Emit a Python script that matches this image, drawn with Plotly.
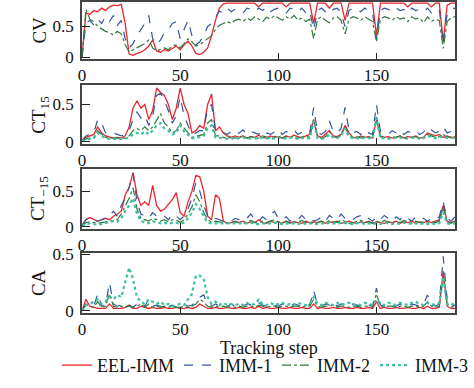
import plotly.graph_objects as go
from plotly.subplots import make_subplots

steps = list(range(0, 191, 2))

series_names = ["EEL-IMM", "IMM-1", "IMM-2", "IMM-3"]
panel_titles = ["CV", "CT<sub>15</sub>", "CT<sub>\u221215</sub>", "CA"]
x_tick_vals = [0, 50, 100, 150]
y_tick_vals = [0, 0.5]

cv_eel = [0.00, 0.72, 0.70, 0.76, 0.74, 0.80, 0.76, 0.82, 0.85, 0.84,
          0.86, 0.55, 0.05, 0.03, 0.06, 0.08, 0.12, 0.18, 0.28, 0.10,
          0.08, 0.12, 0.10, 0.14, 0.18, 0.12, 0.20, 0.26, 0.18, 0.06,
          0.04, 0.08, 0.15, 0.35, 0.60, 0.80, 0.87, 0.88, 0.88, 0.88,
          0.88, 0.88, 0.88, 0.88, 0.88, 0.82, 0.88, 0.88, 0.88, 0.88,
          0.88, 0.88, 0.82, 0.88, 0.88, 0.88, 0.88, 0.88, 0.88, 0.55,
          0.88, 0.88, 0.88, 0.80, 0.88, 0.88, 0.88, 0.60, 0.88, 0.88,
          0.88, 0.88, 0.88, 0.88, 0.88, 0.35, 0.88, 0.88, 0.88, 0.88,
          0.88, 0.88, 0.88, 0.82, 0.88, 0.88, 0.88, 0.88, 0.88, 0.82,
          0.88, 0.88, 0.25, 0.85, 0.88, 0.88]
cv_imm1 = [0.00, 0.55, 0.60, 0.52, 0.62, 0.55, 0.66, 0.58, 0.68, 0.52,
           0.60, 0.30, 0.15, 0.22, 0.35, 0.45, 0.55, 0.68, 0.30, 0.20,
           0.28, 0.40, 0.45, 0.55, 0.58, 0.30, 0.45, 0.60, 0.35, 0.20,
           0.25, 0.35, 0.50, 0.55, 0.65, 0.75, 0.72, 0.80, 0.74, 0.78,
           0.76, 0.72, 0.80, 0.78, 0.74, 0.80, 0.76, 0.82, 0.74, 0.78,
           0.80, 0.76, 0.72, 0.80, 0.78, 0.74, 0.80, 0.72, 0.76, 0.45,
           0.76, 0.80, 0.74, 0.70, 0.78, 0.80, 0.72, 0.50, 0.76, 0.80,
           0.78, 0.74, 0.80, 0.76, 0.72, 0.30, 0.76, 0.80, 0.78, 0.74,
           0.80, 0.76, 0.78, 0.72, 0.80, 0.76, 0.78, 0.74, 0.80, 0.72,
           0.76, 0.78, 0.22, 0.70, 0.78, 0.80]
cv_imm2 = [0.00, 0.78, 0.62, 0.58, 0.50, 0.46, 0.42, 0.40, 0.36, 0.42,
           0.38, 0.20, 0.08, 0.12, 0.15, 0.18, 0.22, 0.28, 0.15, 0.10,
           0.12, 0.15, 0.12, 0.18, 0.20, 0.15, 0.22, 0.30, 0.25, 0.18,
           0.20, 0.25, 0.30, 0.35, 0.45, 0.52, 0.55, 0.58, 0.55, 0.60,
           0.62, 0.58, 0.64, 0.60, 0.66, 0.62, 0.58, 0.65, 0.62, 0.68,
           0.64, 0.60, 0.66, 0.62, 0.68, 0.60, 0.64, 0.58, 0.62, 0.30,
           0.62, 0.66, 0.60, 0.56, 0.64, 0.66, 0.60, 0.38, 0.62, 0.66,
           0.64, 0.60, 0.66, 0.62, 0.58, 0.25, 0.62, 0.66, 0.64, 0.60,
           0.66, 0.62, 0.64, 0.58, 0.66, 0.62, 0.64, 0.56, 0.66, 0.58,
           0.62, 0.60, 0.14, 0.58, 0.64, 0.66]

ct15_eel = [0.02, 0.06, 0.08, 0.10, 0.20, 0.12, 0.08, 0.06, 0.05, 0.06,
            0.05, 0.08, 0.20, 0.45, 0.55, 0.45, 0.50, 0.30, 0.42, 0.72,
            0.66, 0.62, 0.50, 0.30, 0.45, 0.72, 0.50, 0.38, 0.12, 0.15,
            0.22, 0.18, 0.50, 0.64, 0.15, 0.20, 0.12, 0.08, 0.06, 0.08,
            0.06, 0.08, 0.05, 0.07, 0.06, 0.09, 0.06, 0.05, 0.08, 0.06,
            0.07, 0.05, 0.08, 0.06, 0.09, 0.07, 0.05, 0.08, 0.10, 0.30,
            0.08, 0.06, 0.10, 0.15, 0.08, 0.07, 0.10, 0.22, 0.12, 0.06,
            0.05, 0.08, 0.06, 0.07, 0.05, 0.30, 0.08, 0.06, 0.07, 0.05,
            0.06, 0.08, 0.05, 0.07, 0.06, 0.08, 0.05, 0.06, 0.12, 0.10,
            0.08, 0.10, 0.06, 0.08, 0.05, 0.07]
ct15_imm1 = [0.02, 0.08, 0.10, 0.12, 0.30, 0.25, 0.12, 0.10, 0.12, 0.10,
             0.08, 0.10, 0.15, 0.30, 0.40, 0.32, 0.36, 0.22, 0.35, 0.62,
             0.65, 0.55, 0.42, 0.25, 0.35, 0.60, 0.35, 0.22, 0.10, 0.12,
             0.15, 0.15, 0.45, 0.50, 0.15, 0.15, 0.12, 0.10, 0.14, 0.10,
             0.12, 0.16, 0.10, 0.14, 0.12, 0.10, 0.16, 0.12, 0.10, 0.14,
             0.17, 0.10, 0.14, 0.12, 0.16, 0.10, 0.13, 0.16, 0.12, 0.46,
             0.12, 0.10, 0.14, 0.28, 0.14, 0.12, 0.18, 0.46, 0.16, 0.12,
             0.14, 0.10, 0.16, 0.12, 0.10, 0.50, 0.14, 0.12, 0.10, 0.15,
             0.12, 0.16, 0.10, 0.14, 0.12, 0.15, 0.10, 0.13, 0.20, 0.16,
             0.12, 0.14, 0.20, 0.12, 0.14, 0.10]
ct15_imm2 = [0.01, 0.04, 0.05, 0.06, 0.15, 0.10, 0.06, 0.05, 0.05, 0.06,
             0.05, 0.05, 0.08, 0.15, 0.18, 0.15, 0.20, 0.15, 0.20, 0.30,
             0.38, 0.25, 0.20, 0.12, 0.15, 0.25, 0.18, 0.12, 0.06, 0.07,
             0.08, 0.10, 0.25, 0.30, 0.08, 0.08, 0.06, 0.05, 0.06, 0.05,
             0.06, 0.08, 0.05, 0.07, 0.06, 0.05, 0.08, 0.06, 0.05, 0.07,
             0.08, 0.05, 0.07, 0.06, 0.08, 0.05, 0.06, 0.08, 0.06, 0.30,
             0.06, 0.05, 0.07, 0.14, 0.07, 0.06, 0.09, 0.20, 0.08, 0.06,
             0.07, 0.05, 0.08, 0.06, 0.05, 0.33, 0.07, 0.06, 0.05, 0.07,
             0.06, 0.08, 0.05, 0.07, 0.06, 0.07, 0.05, 0.06, 0.10, 0.08,
             0.06, 0.07, 0.10, 0.06, 0.07, 0.05]
ct15_imm3 = [0.01, 0.03, 0.04, 0.05, 0.12, 0.08, 0.05, 0.04, 0.04, 0.05,
             0.04, 0.04, 0.06, 0.10, 0.12, 0.10, 0.14, 0.10, 0.15, 0.22,
             0.25, 0.18, 0.15, 0.10, 0.12, 0.22, 0.14, 0.10, 0.05, 0.05,
             0.06, 0.08, 0.18, 0.22, 0.06, 0.06, 0.05, 0.04, 0.05, 0.04,
             0.05, 0.06, 0.04, 0.05, 0.05, 0.04, 0.06, 0.05, 0.04, 0.05,
             0.06, 0.04, 0.05, 0.05, 0.06, 0.04, 0.05, 0.06, 0.05, 0.28,
             0.05, 0.04, 0.05, 0.10, 0.06, 0.05, 0.08, 0.18, 0.07, 0.05,
             0.05, 0.04, 0.06, 0.05, 0.04, 0.32, 0.05, 0.05, 0.04, 0.05,
             0.05, 0.06, 0.04, 0.05, 0.05, 0.06, 0.04, 0.05, 0.08, 0.06,
             0.05, 0.06, 0.08, 0.05, 0.06, 0.04]

ctm15_eel = [0.02, 0.10, 0.13, 0.10, 0.08, 0.10, 0.12, 0.10, 0.15, 0.18,
             0.22, 0.45, 0.55, 0.76, 0.45, 0.30, 0.35, 0.30, 0.58, 0.30,
             0.22, 0.25, 0.32, 0.38, 0.48, 0.20, 0.15, 0.35, 0.50, 0.72,
             0.70, 0.50, 0.15, 0.10, 0.45, 0.40, 0.08, 0.05, 0.06, 0.08,
             0.06, 0.08, 0.05, 0.07, 0.06, 0.10, 0.06, 0.05, 0.08, 0.06,
             0.07, 0.05, 0.08, 0.06, 0.07, 0.06, 0.05, 0.08, 0.06, 0.07,
             0.06, 0.08, 0.05, 0.07, 0.06, 0.08, 0.05, 0.06, 0.08, 0.06,
             0.05, 0.07, 0.06, 0.08, 0.05, 0.07, 0.06, 0.05, 0.07, 0.06,
             0.08, 0.05, 0.07, 0.06, 0.08, 0.05, 0.07, 0.06, 0.08, 0.06,
             0.08, 0.10, 0.30, 0.08, 0.06, 0.08]
ctm15_imm1 = [0.02, 0.10, 0.12, 0.10, 0.08, 0.10, 0.12, 0.15, 0.22, 0.15,
              0.30, 0.40, 0.55, 0.75, 0.35, 0.18, 0.15, 0.12, 0.20, 0.15,
              0.12, 0.15, 0.10, 0.18, 0.15, 0.10, 0.15, 0.25, 0.40, 0.62,
              0.50, 0.30, 0.15, 0.10, 0.12, 0.10, 0.08, 0.10, 0.08, 0.12,
              0.10, 0.08, 0.12, 0.18, 0.10, 0.08, 0.14, 0.10, 0.16, 0.22,
              0.12, 0.10, 0.14, 0.08, 0.12, 0.10, 0.16, 0.10, 0.12, 0.08,
              0.10, 0.14, 0.08, 0.16, 0.12, 0.10, 0.18, 0.12, 0.08, 0.10,
              0.14, 0.16, 0.10, 0.12, 0.08, 0.14, 0.10, 0.16, 0.12, 0.08,
              0.14, 0.10, 0.16, 0.12, 0.08, 0.14, 0.10, 0.12, 0.08, 0.12,
              0.10, 0.14, 0.35, 0.12, 0.08, 0.14]
ctm15_imm2 = [0.01, 0.06, 0.07, 0.06, 0.05, 0.06, 0.07, 0.08, 0.10, 0.10,
              0.18, 0.30, 0.40, 0.55, 0.25, 0.12, 0.10, 0.08, 0.12, 0.10,
              0.08, 0.10, 0.07, 0.10, 0.10, 0.06, 0.10, 0.18, 0.28, 0.45,
              0.35, 0.20, 0.10, 0.07, 0.08, 0.07, 0.06, 0.05, 0.06, 0.07,
              0.06, 0.05, 0.07, 0.09, 0.06, 0.05, 0.08, 0.06, 0.08, 0.10,
              0.07, 0.06, 0.08, 0.05, 0.07, 0.06, 0.09, 0.06, 0.07, 0.05,
              0.06, 0.08, 0.05, 0.09, 0.07, 0.06, 0.10, 0.07, 0.05, 0.06,
              0.08, 0.09, 0.06, 0.07, 0.05, 0.08, 0.06, 0.09, 0.07, 0.05,
              0.08, 0.06, 0.09, 0.07, 0.05, 0.08, 0.06, 0.07, 0.05, 0.07,
              0.06, 0.08, 0.26, 0.07, 0.05, 0.08]
ctm15_imm3 = [0.01, 0.04, 0.05, 0.04, 0.03, 0.04, 0.05, 0.06, 0.08, 0.07,
              0.12, 0.22, 0.30, 0.40, 0.18, 0.08, 0.06, 0.05, 0.08, 0.06,
              0.05, 0.06, 0.04, 0.06, 0.06, 0.04, 0.06, 0.12, 0.20, 0.32,
              0.25, 0.15, 0.06, 0.05, 0.05, 0.05, 0.04, 0.04, 0.05, 0.05,
              0.04, 0.04, 0.05, 0.06, 0.04, 0.04, 0.05, 0.04, 0.05, 0.06,
              0.05, 0.04, 0.05, 0.04, 0.05, 0.04, 0.06, 0.04, 0.05, 0.04,
              0.04, 0.05, 0.04, 0.06, 0.05, 0.04, 0.06, 0.05, 0.04, 0.04,
              0.05, 0.06, 0.04, 0.05, 0.04, 0.05, 0.04, 0.06, 0.05, 0.04,
              0.05, 0.04, 0.06, 0.05, 0.04, 0.05, 0.04, 0.05, 0.04, 0.05,
              0.04, 0.05, 0.20, 0.05, 0.04, 0.05]

ca_eel = [0.00, 0.10, 0.04, 0.03, 0.02, 0.02, 0.02, 0.06, 0.02, 0.02,
          0.02, 0.03, 0.05, 0.02, 0.02, 0.04, 0.03, 0.02, 0.03, 0.02,
          0.02, 0.03, 0.02, 0.02, 0.03, 0.02, 0.02, 0.03, 0.02, 0.03,
          0.06, 0.04, 0.02, 0.02, 0.03, 0.02, 0.02, 0.03, 0.02, 0.02,
          0.03, 0.02, 0.02, 0.03, 0.02, 0.04, 0.02, 0.03, 0.02, 0.02,
          0.03, 0.02, 0.02, 0.03, 0.02, 0.02, 0.03, 0.02, 0.02, 0.06,
          0.02, 0.03, 0.02, 0.02, 0.03, 0.02, 0.02, 0.03, 0.02, 0.02,
          0.03, 0.02, 0.02, 0.03, 0.02, 0.08, 0.02, 0.03, 0.02, 0.02,
          0.03, 0.02, 0.02, 0.03, 0.02, 0.02, 0.03, 0.02, 0.04, 0.02,
          0.02, 0.03, 0.35, 0.04, 0.02, 0.02]
ca_imm1 = [0.00, 0.06, 0.05, 0.04, 0.15, 0.04, 0.05, 0.25, 0.06, 0.04,
           0.05, 0.04, 0.05, 0.03, 0.06, 0.08, 0.04, 0.10, 0.04, 0.05,
           0.04, 0.06, 0.04, 0.05, 0.03, 0.04, 0.06, 0.04, 0.05, 0.08,
           0.12, 0.14, 0.05, 0.04, 0.06, 0.04, 0.05, 0.04, 0.06, 0.04,
           0.05, 0.04, 0.06, 0.05, 0.04, 0.07, 0.05, 0.04, 0.06, 0.05,
           0.04, 0.06, 0.05, 0.04, 0.06, 0.05, 0.04, 0.06, 0.05, 0.18,
           0.05, 0.04, 0.06, 0.05, 0.08, 0.04, 0.06, 0.05, 0.04, 0.06,
           0.05, 0.04, 0.06, 0.05, 0.04, 0.20, 0.05, 0.04, 0.06, 0.05,
           0.04, 0.06, 0.05, 0.04, 0.06, 0.05, 0.04, 0.06, 0.14, 0.05,
           0.04, 0.06, 0.48, 0.10, 0.04, 0.05]
ca_imm2 = [0.00, 0.05, 0.04, 0.03, 0.08, 0.03, 0.04, 0.15, 0.04, 0.03,
           0.04, 0.03, 0.04, 0.03, 0.04, 0.06, 0.03, 0.06, 0.03, 0.04,
           0.03, 0.04, 0.03, 0.04, 0.03, 0.03, 0.04, 0.03, 0.04, 0.06,
           0.10, 0.08, 0.04, 0.03, 0.04, 0.03, 0.04, 0.03, 0.04, 0.03,
           0.04, 0.03, 0.04, 0.04, 0.03, 0.05, 0.04, 0.03, 0.04, 0.04,
           0.03, 0.04, 0.04, 0.03, 0.04, 0.04, 0.03, 0.04, 0.04, 0.10,
           0.04, 0.03, 0.04, 0.04, 0.05, 0.03, 0.04, 0.04, 0.03, 0.04,
           0.04, 0.03, 0.04, 0.04, 0.03, 0.15, 0.04, 0.03, 0.04, 0.04,
           0.03, 0.04, 0.04, 0.03, 0.04, 0.04, 0.03, 0.04, 0.08, 0.04,
           0.03, 0.04, 0.30, 0.06, 0.03, 0.04]
ca_imm3 = [0.00, 0.05, 0.06, 0.08, 0.10, 0.06, 0.08, 0.12, 0.10, 0.14,
           0.12, 0.25, 0.38, 0.28, 0.12, 0.08, 0.06, 0.10, 0.08, 0.06,
           0.08, 0.05, 0.06, 0.04, 0.05, 0.06, 0.05, 0.10, 0.15, 0.31,
           0.31, 0.28, 0.12, 0.06, 0.08, 0.05, 0.07, 0.05, 0.06, 0.05,
           0.06, 0.05, 0.07, 0.05, 0.06, 0.10, 0.06, 0.05, 0.07, 0.05,
           0.06, 0.07, 0.05, 0.06, 0.05, 0.07, 0.06, 0.05, 0.06, 0.12,
           0.06, 0.05, 0.07, 0.06, 0.05, 0.07, 0.05, 0.06, 0.07, 0.05,
           0.06, 0.05, 0.07, 0.06, 0.05, 0.10, 0.06, 0.05, 0.07, 0.06,
           0.05, 0.07, 0.06, 0.05, 0.07, 0.08, 0.06, 0.05, 0.07, 0.06,
           0.05, 0.07, 0.30, 0.06, 0.05, 0.07]

panels = [
    [cv_eel, cv_imm1, cv_imm2, None],
    [ct15_eel, ct15_imm1, ct15_imm2, ct15_imm3],
    [ctm15_eel, ctm15_imm1, ctm15_imm2, ctm15_imm3],
    [ca_eel, ca_imm1, ca_imm2, ca_imm3],
]
y_ranges = [[-0.03, 0.9], [-0.03, 0.76], [-0.03, 0.81], [-0.02, 0.51]]
domains = [[0.817, 1.0], [0.543, 0.733], [0.270, 0.463], [0.0, 0.193]]

styles = [
    dict(color="#e8262c", width=1.3, dash="solid"),
    dict(color="#34569e", width=1.2, dash="dash"),
    dict(color="#2d7a3a", width=1.2, dash="dashdot"),
    dict(color="#3cbfa3", width=2.2, dash="dot"),
]

FONT = "Liberation Serif"
TXT = "#111111"

fig = make_subplots(rows=4, cols=1)
for r, series in enumerate(panels, start=1):
    for k, ys in enumerate(series):
        if ys is None:
            continue
        assert len(ys) == len(steps)
        fig.add_trace(go.Scatter(
            x=steps, y=ys, mode="lines", name=series_names[k],
            line=styles[k], showlegend=(r == 2),
        ), row=r, col=1)

axis_common = dict(
    showline=True, mirror=True, linecolor="#444444", linewidth=1.5,
    ticks="inside", tickcolor="#222222", tickwidth=1.2,
    showgrid=False, zeroline=False, automargin=False,
    tickfont=dict(family=FONT, size=17, color=TXT),
)
for r in range(1, 5):
    xname = "xaxis" if r == 1 else f"xaxis{r}"
    yname = "yaxis" if r == 1 else f"yaxis{r}"
    fig.layout[xname].update(
        range=[0, 190], tickvals=x_tick_vals, ticklen=6,
        ticklabelstandoff=0, **axis_common)
    fig.layout[yname].update(
        range=y_ranges[r - 1], domain=domains[r - 1],
        tickvals=y_tick_vals, ticktext=["0", "0.5"], ticklen=8,
        ticklabelstandoff=3, **axis_common)
    d = domains[r - 1]
    fig.add_annotation(
        text=panel_titles[r - 1], xref="paper", yref="paper",
        x=-0.115, y=(d[0] + d[1]) / 2, xanchor="center", yanchor="middle",
        textangle=-90, showarrow=False,
        font=dict(family=FONT, size=19, color=TXT))

fig.add_annotation(
    text="Tracking step", xref="paper", yref="paper",
    x=0.5, y=-0.112, xanchor="center", yanchor="middle", showarrow=False,
    font=dict(family=FONT, size=18, color=TXT))

fig.update_layout(
    width=474, height=388,
    margin=dict(l=82, r=19, t=2, b=75),
    paper_bgcolor="white", plot_bgcolor="white",
    font=dict(family=FONT, size=18, color=TXT),
    legend=dict(orientation="h", xref="paper", yref="paper",
                x=-0.067, y=-0.228, xanchor="left", yanchor="bottom",
                font=dict(family=FONT, size=18, color=TXT),
                bgcolor="rgba(0,0,0,0)", itemwidth=30, tracegroupgap=0),
)

fig.write_html("out.html",
               config={"displayModeBar": False},
               post_script="document.body.style.margin='0';document.body.style.padding='0';")
